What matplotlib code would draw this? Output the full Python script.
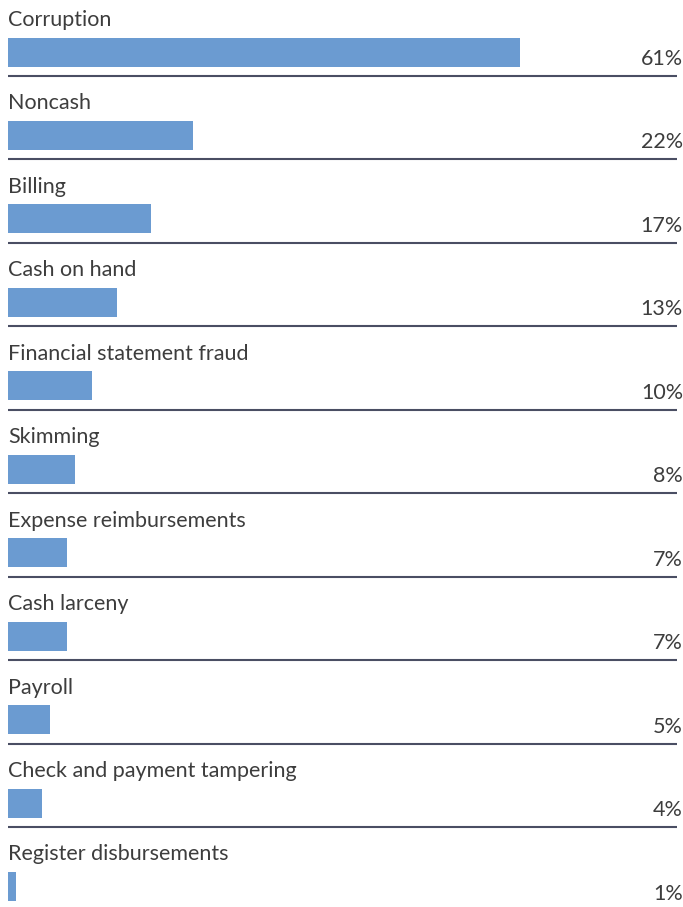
import matplotlib.pyplot as plt

categories = ["Corruption", "Noncash", "Billing", "Cash on hand",
              "Financial statement fraud", "Skimming", "Expense reimbursements",
              "Cash larceny", "Payroll", "Check and payment tampering",
              "Register disbursements"]
values = [61, 22, 17, 13, 10, 8, 7, 7, 5, 4, 1]
value_labels = ["61%", "22%", "17%", "13%", "10%", "8%", "7%", "7%", "5%", "4%", "1%"]

BAR_COLOR = "#6b9bd1"
LINE_COLOR = "#4a4e63"
TEXT_COLOR = "#3d3d3d"

plt.rcParams["font.family"] = ["Lato", "DejaVu Sans"]

fig = plt.figure(figsize=(6.83, 9.07), dpi=100)
ax = fig.add_axes([8 / 683, 0, 675 / 683, 1])

pitch = 83.45  # px per row
scale = (520 - 8) / 61  # px per percent
rows = list(range(len(categories)))

ax.barh(rows, values, height=29 / pitch, color=BAR_COLOR, align="center")

ax.hlines([r + 24 / pitch for r in rows[:-1]], 0, (677 - 8) / scale,
          color=LINE_COLOR, linewidth=1.5)

for r, name, lab in zip(rows, categories, value_labels):
    ax.text(0, r - 32 / pitch, name, ha="left", va="center",
            fontsize=15.5, color=TEXT_COLOR)
    ax.text(1.0, r + 7 / pitch, lab, ha="right", va="center",
            fontsize=15.5, color=TEXT_COLOR,
            transform=ax.get_yaxis_transform())

ax.set_xlim(0, 675 / scale)
ax.set_ylim(855 / pitch, -52 / pitch)
ax.axis("off")

fig.savefig("out.png", dpi=100)
